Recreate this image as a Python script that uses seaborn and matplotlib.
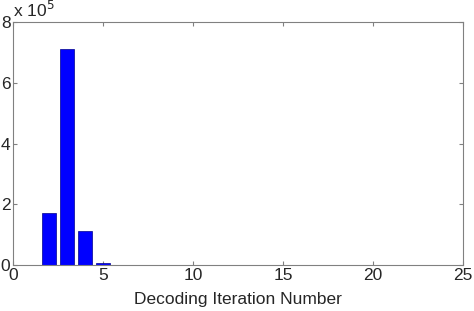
import matplotlib
matplotlib.use("Agg")
import matplotlib.pyplot as plt
import seaborn as sns
import pandas as pd
from matplotlib.ticker import FuncFormatter, MultipleLocator

iterations = list(range(1, 25))
counts = [0, 170000, 710000, 113000, 6000, 1200, 1000, 900, 800, 800, 700, 700, 600,
          900, 300, 200, 200, 200, 200, 200, 900, 100, 100, 100]

sns.set_style("white")
plt.rcParams['font.family'] = ['Liberation Sans', 'DejaVu Sans']

df = pd.DataFrame({"iter": iterations, "count": counts})

fig = plt.figure(figsize=(4.74, 3.11), dpi=100)
ax = fig.add_axes([0.028, 0.148, 0.949, 0.781])
sns.barplot(data=df, x="iter", y="count", native_scale=True, width=0.8,
            color="#0000ff", edgecolor="#00008b", linewidth=0.5, saturation=1, ax=ax)

ax.set_xlim(0, 25)
ax.set_ylim(0, 800000)
ax.xaxis.set_major_locator(MultipleLocator(5))
ax.yaxis.set_major_locator(MultipleLocator(200000))
ax.yaxis.set_major_formatter(FuncFormatter(lambda v, p: f"{v/1e5:g}"))
ax.set_xlabel("Decoding Iteration Number", fontsize=12.5, labelpad=7)
ax.set_ylabel("")
for s in ax.spines.values():
    s.set_visible(True)
    s.set_color("#808080")
    s.set_linewidth(0.8)
ax.tick_params(direction="in", length=3, color="#808080", labelsize=12.5,
               top=True, right=True, bottom=True, left=True, pad=2)
fig.text(0.027, 0.935, "x 10$^5$", fontsize=12.5, ha="left", va="bottom")
fig.savefig("out.png", dpi=100)
